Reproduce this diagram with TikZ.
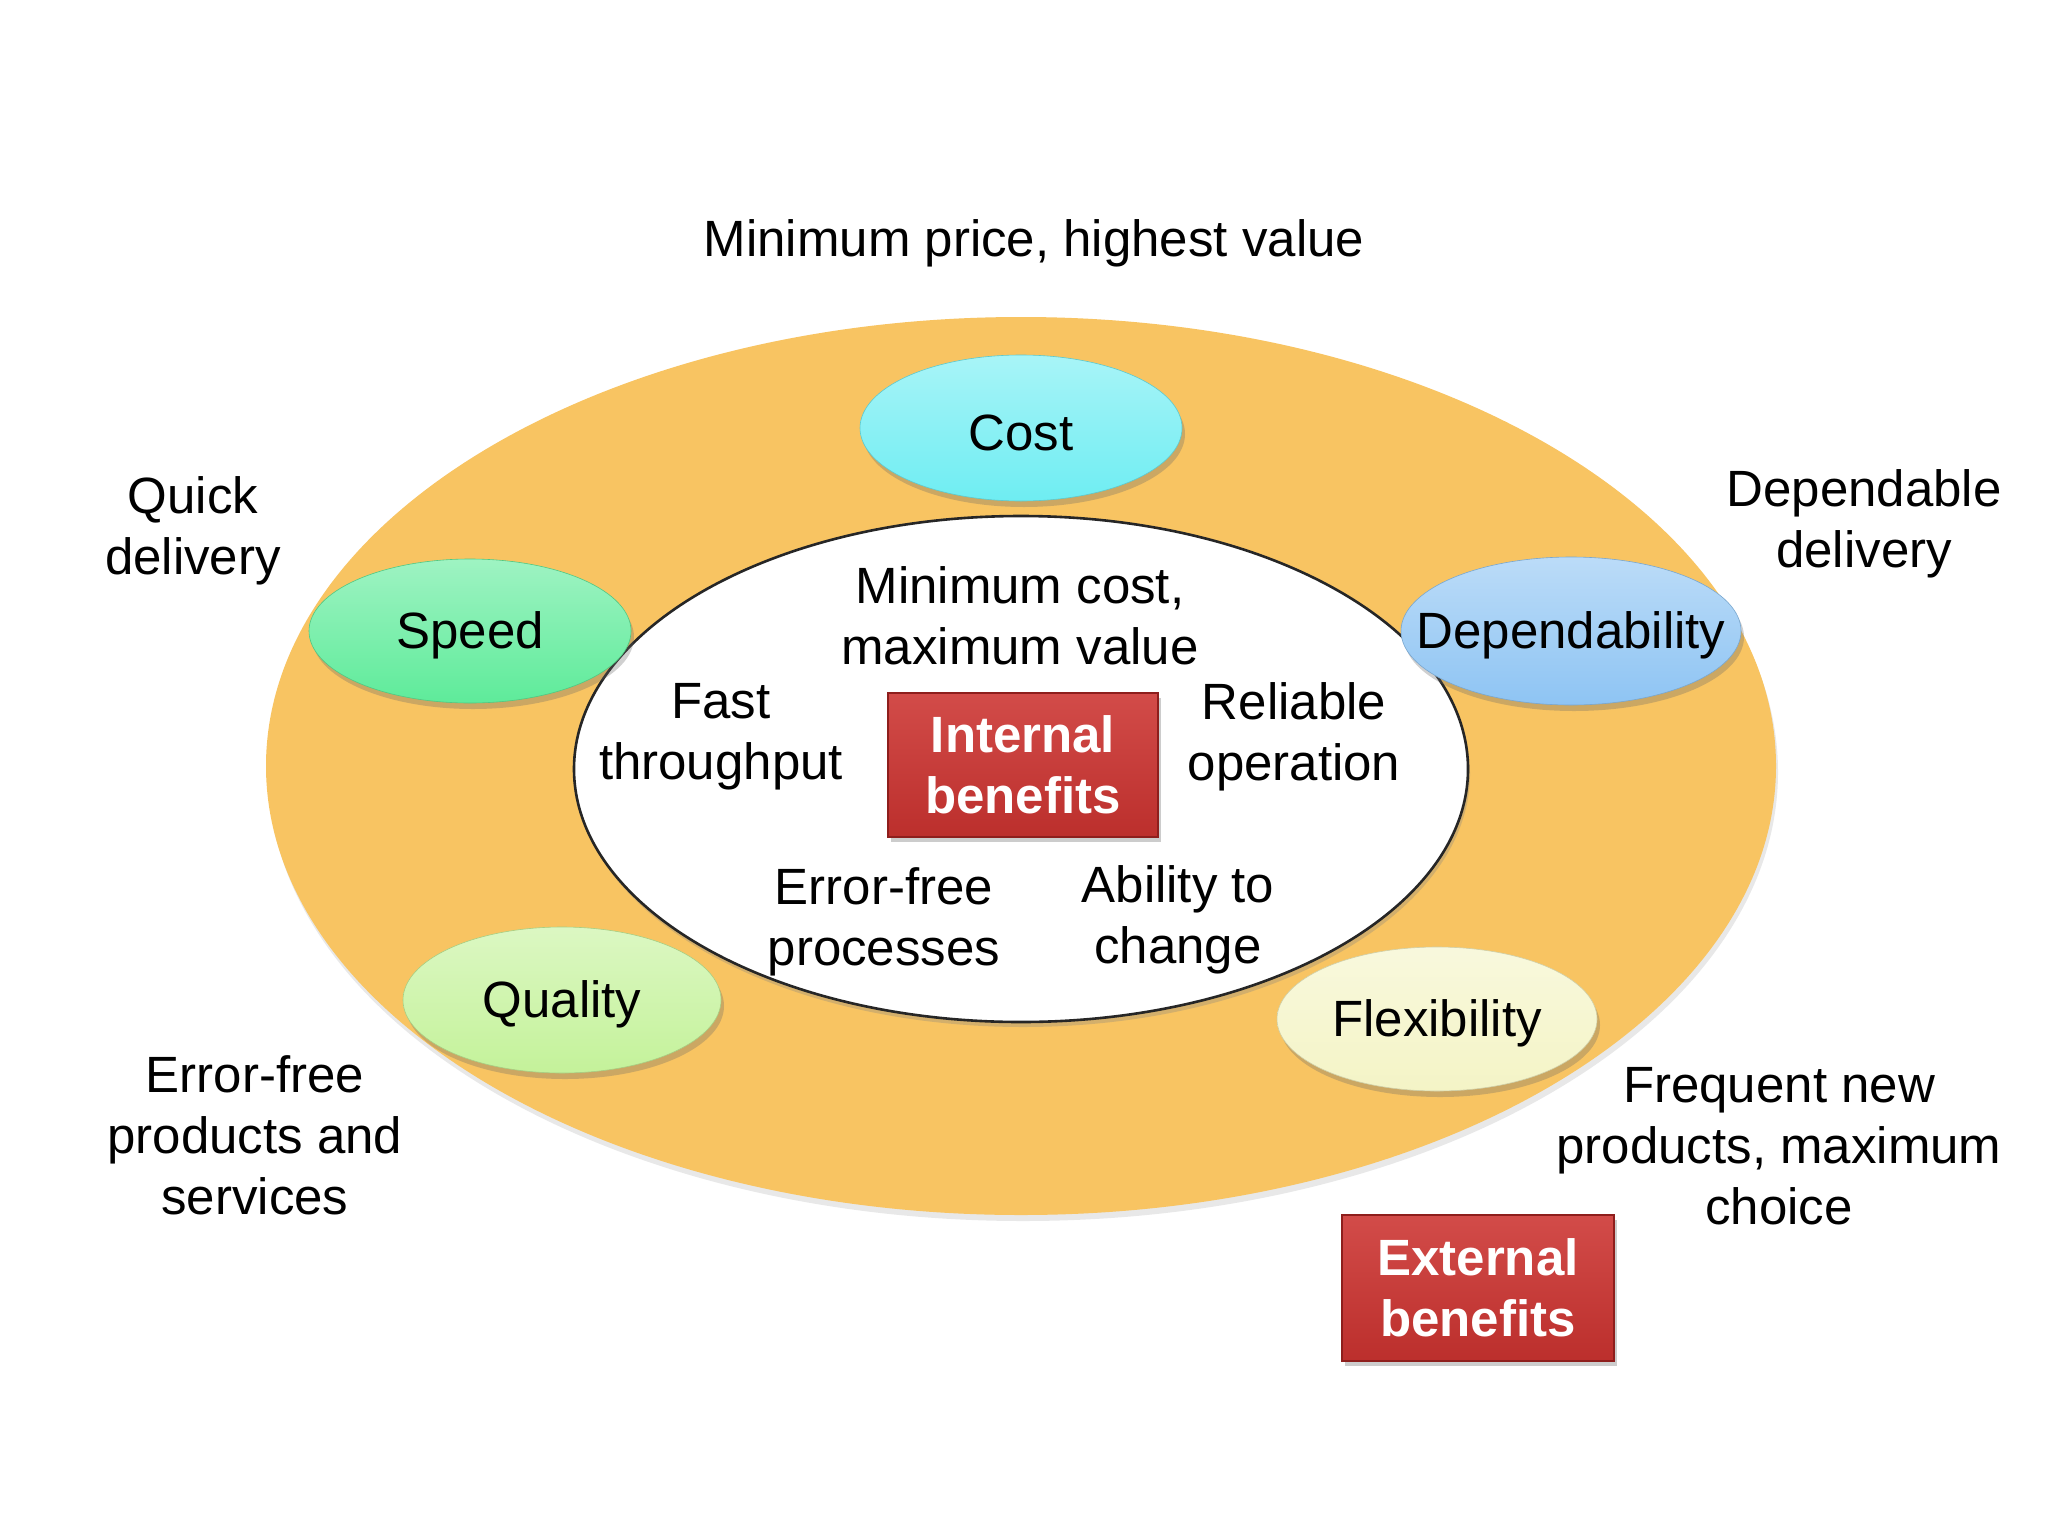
\documentclass[tikz,border=0pt]{standalone}
\usepackage{fontspec}
\setmainfont{Liberation Sans}
\usetikzlibrary{shapes.geometric,shadows}
\definecolor{ringorange}{HTML}{F8C462}
\definecolor{costc}{HTML}{6EEDF2}
\definecolor{speedc}{HTML}{5EEB9A}
\definecolor{depc}{HTML}{8EC4F3}
\definecolor{qualc}{HTML}{C4F29A}
\definecolor{flexc}{HTML}{F4F4C6}
\definecolor{boxred}{HTML}{CC3330}
\definecolor{boxedge}{HTML}{8E1E1C}
\newcommand{\pilltxt}[1]{\makebox[0pt]{\raisebox{-2.3pt}[\height][\depth]{#1}}}
\tikzset{
  txt/.style={align=center, font=\fontsize{25.5}{30.6}\selectfont, inner sep=0pt},
  pill/.style={ellipse, inner sep=0pt, font=\fontsize{25.5}{30.6}\selectfont,
     top color=#1!60!white, middle color=#1!95!white, bottom color=#1,
     draw=#1!85!black, line width=0.3pt,
     drop shadow={shadow xshift=1.5pt, shadow yshift=-3pt, opacity=0.3, fill=black!60}},
  redbox/.style={rectangle, inner sep=0pt, minimum width=135pt, minimum height=72pt,
     top color=boxred!88!white, bottom color=boxred!92!black, draw=boxedge, line width=0.8pt,
     text=white, align=center, font=\fontsize{25.5}{30.6}\selectfont\bfseries,
     drop shadow={shadow xshift=1.5pt, shadow yshift=-2.5pt, opacity=0.4}},
}
\begin{document}
\begin{tikzpicture}[x=0.5pt, y=-0.5pt]
\useasboundingbox[fill=white] (0,0) rectangle (2048,1536);
% outer ring
\node[ellipse, inner sep=0pt, minimum width=755pt, minimum height=449pt, fill=ringorange,
  drop shadow={shadow xshift=1pt, shadow yshift=-3pt, opacity=0.18}] (outer) at (1021,766) {};
% inner white ellipse
\node[ellipse, inner sep=0pt, minimum width=447pt, minimum height=253pt, fill=white,
  draw=black!85, line width=1.3pt,
  drop shadow={shadow xshift=1pt, shadow yshift=-2.5pt, opacity=0.3}] (inner) at (1021,769) {};
% pills
\node[pill=costc, minimum width=161pt, minimum height=73pt] (cost) at (1021,428) {\pilltxt{Cost}};
\node[pill=speedc, minimum width=161pt, minimum height=72pt] (speed) at (470,631) {\pilltxt{Speed}};
\node[pill=depc, minimum width=170pt, minimum height=74pt] (dep) at (1571,631) {\pilltxt{Dependability}};
\node[pill=qualc, minimum width=159pt, minimum height=73pt] (qual) at (562,1000) {\pilltxt{Quality}};
\node[pill=flexc, minimum width=160pt, minimum height=72pt] (flex) at (1437,1019) {\pilltxt{Flexibility}};
% red boxes
\node[redbox] (internal) at (1023,765) {Internal\\benefits};
\node[redbox, minimum width=136pt, minimum height=73pt] (external) at (1478,1288) {External\\benefits};
% outer texts
\node[txt] (title) at (1034,243) {Minimum price, highest value};
\node[txt] (quick) at (193,531) {Quick\\delivery};
\node[txt] (depdel) at (1864,524) {Dependable\\delivery};
\node[txt] (errprod) at (255,1135) {Error-free\\products and\\services};
\node[txt] (freq) at (1779,1146) {Frequent new\\products, maximum\\choice};
% inner texts
\node[txt] (mincost) at (1020,616) {Minimum cost,\\maximum value};
\node[txt] (fast) at (721,737) {Fast\\throughput};
\node[txt] (reliable) at (1294,737) {Reliable\\operation};
\node[txt] (errproc) at (884,922) {Error-free\\processes};
\node[txt] (ability) at (1178,920) {Ability to\\change};
\end{tikzpicture}
\end{document}
